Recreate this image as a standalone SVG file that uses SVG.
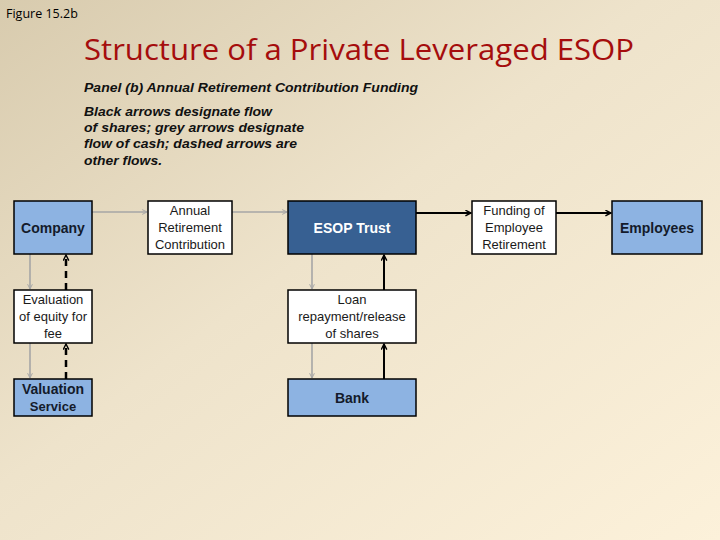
<svg xmlns="http://www.w3.org/2000/svg" width="720" height="540" viewBox="0 0 720 540">
<defs>
<linearGradient id="bg" x1="0" y1="0" x2="1" y2="1">
<stop offset="0" stop-color="#d8cbae"/>
<stop offset="0.45" stop-color="#eee3cb"/>
<stop offset="1" stop-color="#fcf1da"/>
</linearGradient>
<marker id="ag" viewBox="0 0 10 10" refX="9" refY="5" markerWidth="6" markerHeight="6" orient="auto" markerUnits="userSpaceOnUse">
<path d="M1,1 L9,5 L1,9" fill="none" stroke="#a6a6a6" stroke-width="1.6"/>
</marker>
<marker id="ab" viewBox="0 0 10 10" refX="9" refY="5" markerWidth="7" markerHeight="7" orient="auto" markerUnits="userSpaceOnUse">
<path d="M1,1 L9,5 L1,9" fill="none" stroke="#000" stroke-width="2"/>
</marker>
</defs>
<style>
.box{stroke:#000;stroke-width:1.5}
.white{fill:#fff}
.light{fill:#8db3e2}
.dark{fill:#376092}
.t{font-family:"Liberation Sans",Arial,sans-serif;font-size:13px;text-anchor:middle;fill:#1a1a1a}
.b{font-weight:bold;font-size:14px;fill:#141b2b}
.w{fill:#fff}
.grey{stroke:#a6a6a6;stroke-width:1.6;fill:none;marker-end:url(#ag)}
.blk{stroke:#000;stroke-width:2;fill:none;marker-end:url(#ab)}
.dash{stroke:#000;stroke-width:2.5;fill:none;stroke-dasharray:7,5;marker-end:url(#ab)}
.note{font-family:"Liberation Sans",Arial,sans-serif;font-size:13.5px;font-weight:bold;font-style:italic;fill:#111}
</style>
<rect x="0" y="0" width="720" height="540" fill="url(#bg)"/>
<text x="6" y="18" font-family="'Open Sans','Liberation Sans',sans-serif" font-size="12.5" fill="#000">Figure 15.2b</text>
<text x="84" y="60" font-family="'Open Sans','Liberation Sans',sans-serif" font-size="30" fill="#a50d0d" textLength="550" lengthAdjust="spacingAndGlyphs">Structure of a Private Leveraged ESOP</text>
<text class="note" x="84" y="92" textLength="334" lengthAdjust="spacingAndGlyphs">Panel (b) Annual Retirement Contribution Funding</text>
<text class="note" x="84" y="116" textLength="188" lengthAdjust="spacingAndGlyphs">Black arrows designate flow</text>
<text class="note" x="84" y="132" textLength="220" lengthAdjust="spacingAndGlyphs">of shares; grey arrows designate</text>
<text class="note" x="84" y="148" textLength="213" lengthAdjust="spacingAndGlyphs">flow of cash; dashed arrows are</text>
<text class="note" x="84" y="165" textLength="78" lengthAdjust="spacingAndGlyphs">other flows.</text>

<g id="connectors">
<line class="grey" x1="92" y1="212" x2="147" y2="212"/>
<line class="grey" x1="232" y1="212" x2="287" y2="212"/>
<line class="blk" x1="416" y1="213" x2="471" y2="213"/>
<line class="blk" x1="556" y1="213" x2="611" y2="213"/>
<line class="grey" x1="30" y1="254" x2="30" y2="289"/>
<line class="grey" x1="30" y1="343" x2="30" y2="378"/>
<line class="dash" x1="66" y1="379" x2="66" y2="344"/>
<line class="dash" x1="66" y1="290" x2="66" y2="255"/>
<line class="grey" x1="312" y1="254" x2="312" y2="289"/>
<line class="grey" x1="312" y1="343" x2="312" y2="378"/>
<line class="blk" x1="384" y1="379" x2="384" y2="344"/>
<line class="blk" x1="384" y1="290" x2="384" y2="255"/>
</g>

<g id="company">
<rect class="box light" x="14" y="201" width="78" height="53"/>
<text class="t b" x="53" y="233">Company</text>
</g>
<g id="annual">
<rect class="box white" x="148" y="201" width="84" height="53"/>
<text class="t" x="190" y="215">Annual</text>
<text class="t" x="190" y="232">Retirement</text>
<text class="t" x="190" y="249">Contribution</text>
</g>
<g id="esop">
<rect class="box dark" x="288" y="201" width="128" height="53"/>
<text class="t b w" x="352" y="233">ESOP Trust</text>
</g>
<g id="funding">
<rect class="box white" x="472" y="201" width="84" height="53"/>
<text class="t" x="514" y="215">Funding of</text>
<text class="t" x="514" y="232">Employee</text>
<text class="t" x="514" y="249">Retirement</text>
</g>
<g id="employees">
<rect class="box light" x="612" y="201" width="90" height="53"/>
<text class="t b" x="657" y="233">Employees</text>
</g>
<g id="evaluation">
<rect class="box white" x="14" y="290" width="78" height="53"/>
<text class="t" x="53" y="304">Evaluation</text>
<text class="t" x="53" y="321">of equity for</text>
<text class="t" x="53" y="338">fee</text>
</g>
<g id="valuation">
<rect class="box light" x="14" y="379" width="78" height="37"/>
<text class="t b" x="53" y="394">Valuation</text>
<text class="t b" x="53" y="411" style="font-size:13px">Service</text>
</g>
<g id="loan">
<rect class="box white" x="288" y="290" width="128" height="53"/>
<text class="t" x="352" y="304">Loan</text>
<text class="t" x="352" y="321">repayment/release</text>
<text class="t" x="352" y="338">of shares</text>
</g>
<g id="bank">
<rect class="box light" x="288" y="379" width="128" height="37"/>
<text class="t b" x="352" y="403">Bank</text>
</g>
</svg>
